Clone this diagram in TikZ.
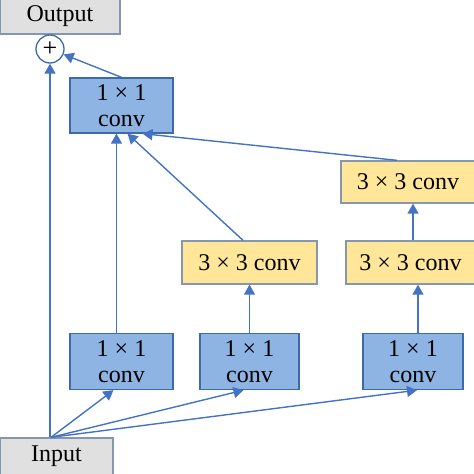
\documentclass[tikz,border=0pt]{standalone}
\usepackage{fontspec}
\setmainfont{Liberation Serif}
\usepackage{tikz}
\usetikzlibrary{arrows.meta,positioning,calc}
\definecolor{convblue}{HTML}{8DB4E2}
\definecolor{convedge}{HTML}{3D6BA8}
\definecolor{wideyellow}{HTML}{FFE699}
\definecolor{greyedge}{HTML}{8497B0}
\definecolor{iogrey}{HTML}{E0E0E0}
\definecolor{arrowblue}{HTML}{4472C4}
\begin{document}
\begin{tikzpicture}[x=1pt,y=-1pt,
  every node/.style={font=\fontsize{24}{26}\selectfont,inner sep=0pt},
  onebyone/.style={draw=convedge,line width=1.3pt,fill=convblue,align=center,minimum height=56pt},
  threebythree/.style={draw=greyedge,line width=1.3pt,fill=wideyellow,minimum height=43pt},
  iobox/.style={draw=greyedge,line width=1.3pt,fill=iogrey},
  link/.style={draw=arrowblue,line width=1.4pt,-{Triangle[length=10pt,width=11pt]}}]
  \useasboundingbox (0,0) rectangle (474,474);
  \node [iobox,minimum width=120pt,minimum height=35pt] (output) at (60,16.5) {Output};
  \node [iobox,minimum width=113pt,minimum height=37pt] (input) at (56.5,456.5) {Input};
  \node [draw=convedge,line width=1.3pt,fill=white,circle,minimum size=28pt] (plus) at (50,49) {\fontsize{26}{26}\selectfont +};
  \node [onebyone,minimum width=103pt,minimum height=55pt] (top) at (121.5,105.5) {1 × 1\\conv};
  \node [onebyone,minimum width=103pt] (cva) at (121.5,361.5) {1 × 1\\conv};
  \node [onebyone,minimum width=99pt] (cvb) at (249.5,361.5) {1 × 1\\conv};
  \node [onebyone,minimum width=100pt] (cvc) at (413,361.5) {1 × 1\\conv};
  \node [threebythree,minimum width=135pt] (midb) at (249.5,262.5) {3 × 3 conv};
  \node [threebythree,minimum width=129pt] (midc) at (410.5,262.5) {3 × 3 conv};
  \node [threebythree,minimum width=134pt,minimum height=42pt] (upc) at (408,182) {3 × 3 conv};
  \coordinate (src) at ($(input.north)+(-5.5,0)$);
  \coordinate (stem) at ($(input.north)+(-6.5,0)$);
  \draw [link] (stem) -- (plus.south);
  \draw [link] (src) -- ([xshift=-8pt]cva.south);
  \draw [link] (src) -- ([xshift=-6pt]cvb.south);
  \draw [link] (src) -- ([xshift=4pt]cvc.south);
  \draw [link] ([xshift=-5pt]cva.north) -- ([xshift=-5pt]top.south);
  \draw [link] (cvb.north) -- (midb.south);
  \draw [link] ([xshift=5pt]cvc.north) -- ([xshift=7.5pt]midc.south);
  \draw [link] ([xshift=2.5pt]midc.north) -- ([xshift=5pt]upc.south);
  \draw [link] ([xshift=-6.5pt]midb.north) -- ([xshift=6pt]top.south);
  \draw [link] ([xshift=-11pt]upc.north) -- ([xshift=21pt]top.south);
  \draw [link] (top.north) -- (plus);
\end{tikzpicture}
\end{document}
